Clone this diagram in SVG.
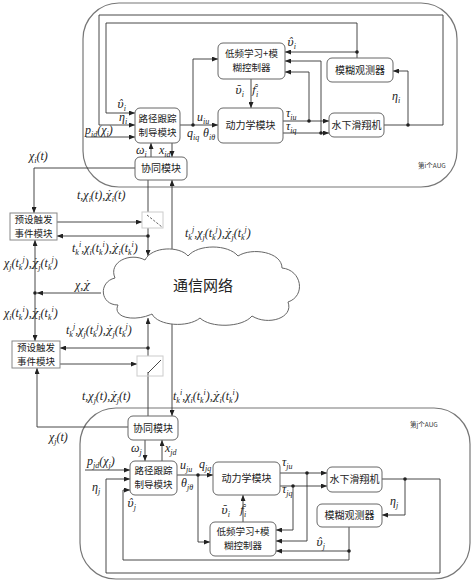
<svg xmlns="http://www.w3.org/2000/svg" width="474" height="583" viewBox="0 0 474 583">
<defs>
<marker id="a" markerWidth="6" markerHeight="5" refX="6" refY="2.5" orient="auto" markerUnits="userSpaceOnUse"><path d="M0,0 L6,2.5 L0,5 z" fill="#222"/></marker>
</defs>
<style>
.o{fill:none;stroke:#777;stroke-width:1.2}
.c{fill:none;stroke:#333;stroke-width:0.9}
.ar{marker-end:url(#a)}
.b{fill:#fff;stroke:#666;stroke-width:1}
.p{fill:#fff;stroke:#888;stroke-width:1}
.sw{fill:none;stroke:#ccc;stroke-width:1}
.d{fill:#222}
.t{font-family:"Noto Sans CJK SC","Noto Sans",sans-serif;font-size:10px;fill:#222;text-anchor:middle}
.t2{font-size:9.5px}
.m{font-family:"Liberation Serif",serif;font-style:italic;font-size:12px;fill:#222}
.ac{font-family:"DejaVu Serif",serif;font-size:11px}
.s{font-size:8px}
.g{font-family:"Noto Sans CJK SC","Noto Sans",sans-serif;font-size:6.5px;fill:#333}
</style>
<g id="aug-i-frame"><rect class="o" x="83" y="3" width="374" height="184" rx="36"/></g>
<g id="aug-j-frame"><rect class="o" x="80" y="408" width="390" height="171" rx="36"/></g>
<g id="connectors">
<path class="c ar" d="M357,58 L357,23 L106,23 L106,113 L135,113"/>
<path class="c ar" d="M357,52 L285,52"/>
<path class="c ar" d="M384,125 L443,125 L443,15 L99,15 L99,125 L135,125"/>
<path class="c ar" d="M408,125 L408,71 L393,71"/>
<path class="c ar" d="M86,137 L135,137"/>
<path class="c ar" d="M180,125 L218,125"/>
<path class="c ar" d="M193,125 L193,59 L218,59"/>
<path class="c ar" d="M251,79 L251,108"/>
<path class="c ar" d="M283,121 L329,121"/>
<path class="c ar" d="M309,121 L309,72 L285,72"/>
<path class="c ar" d="M283,133 L329,133"/>
<path class="c ar" d="M321,133 L321,61 L285,61"/>
<path class="c ar" d="M151,157 L151,143"/>
<path class="c ar" d="M172,143 L172,157"/>
<path class="c ar" d="M135,168 L34,168 L34,213"/>
<path class="c" d="M148,180 L148,212"/>
<path class="c ar" d="M148,228 L148,256"/>
<path class="c ar" d="M148,236 L57,236"/>
<path class="c ar" d="M57,222 L142,222"/>
<path class="c ar" d="M172,250 L172,180"/>
<path class="c ar" d="M101,293 L37,293"/>
<path class="c ar" d="M35,293 L35,240"/>
<path class="c ar" d="M35,293 L35,341"/>
<path class="c ar" d="M148,356 L148,318"/>
<path class="c ar" d="M148,348 L60,348"/>
<path class="c ar" d="M60,364 L137,364"/>
<path class="c" d="M148,372 L148,416"/>
<path class="c ar" d="M172,323 L172,416"/>
<path class="c ar" d="M128,427 L37,427 L37,368"/>
<path class="c ar" d="M145,440 L145,461"/>
<path class="c ar" d="M162,461 L162,440"/>
<path class="c ar" d="M85,470 L130,470"/>
<path class="c ar" d="M382,479 L440,479 L440,573 L106,573 L106,479 L130,479"/>
<path class="c ar" d="M405,479 L405,515 L382,515"/>
<path class="c ar" d="M349,527 L349,560 L123,560 L123,490 L130,490"/>
<path class="c ar" d="M349,551 L276,551"/>
<path class="c ar" d="M177,475 L213,475"/>
<path class="c ar" d="M198,475 L198,542 L210,542"/>
<path class="c ar" d="M243,522 L243,495"/>
<path class="c ar" d="M280,473 L327,473"/>
<path class="c ar" d="M307,473 L307,541 L276,541"/>
<path class="c ar" d="M280,486 L327,486"/>
<path class="c ar" d="M293,486 L293,530 L276,530"/>
<circle class="d" cx="357" cy="52" r="1.8"/>
<circle class="d" cx="408" cy="125" r="1.8"/>
<circle class="d" cx="193" cy="125" r="1.8"/>
<circle class="d" cx="309" cy="121" r="1.8"/>
<circle class="d" cx="321" cy="133" r="1.8"/>
<circle class="d" cx="148" cy="236" r="1.8"/>
<circle class="d" cx="35" cy="293" r="1.8"/>
<circle class="d" cx="148" cy="348" r="1.8"/>
<circle class="d" cx="405" cy="479" r="1.8"/>
<circle class="d" cx="349" cy="551" r="1.8"/>
<circle class="d" cx="198" cy="475" r="1.8"/>
<circle class="d" cx="307" cy="473" r="1.8"/>
<circle class="d" cx="293" cy="486" r="1.8"/>
</g>
<g id="cloud">
<path d="M118,305 C100,305 98,282 115,278 C108,262 130,252 145,260 C152,246 180,246 188,256 C198,244 228,244 238,256 C252,247 282,252 282,268 C302,270 306,296 288,302 C294,318 268,326 252,316 C242,328 210,328 200,318 C188,328 158,326 152,314 C135,322 112,318 118,305 Z" fill="#fff" stroke="#666" stroke-width="1"/>
<text class="t" x="203" y="291" style="font-size:15px">通信网络</text>
</g>
<g id="path-i"><rect class="b" x="135" y="108" width="45" height="35" rx="5"/><text class="t t2" x="157.5" y="121.8">路径跟踪<tspan x="157.5" dy="14">制导模块</tspan></text></g>
<g id="lowfreq-i"><rect class="b" x="218" y="43" width="67" height="36" rx="5"/><text class="t t2" x="251.5" y="57.3">低频学习+模<tspan x="251.5" dy="14">糊控制器</tspan></text></g>
<g id="observer-i"><rect class="b" x="327" y="58" width="66" height="24" rx="5"/><text class="t" x="360" y="73.5">模糊观测器</text></g>
<g id="dyn-i"><rect class="b" x="218" y="108" width="65" height="35" rx="5"/><text class="t" x="250.5" y="129">动力学模块</text></g>
<g id="glider-i"><rect class="b" x="329" y="113" width="55" height="24" rx="5"/><text class="t" x="356.5" y="128.5">水下滑翔机</text></g>
<g id="coop-i"><rect class="b" x="135" y="157" width="52" height="23" rx="5"/><text class="t" x="161" y="172">协同模块</text></g>
<g id="trigger-i"><rect class="p" x="10" y="213" width="47" height="27"/><text class="t t2" x="33.5" y="222.8">预设触发<tspan x="33.5" dy="14">事件模块</tspan></text></g>
<g id="switch-i"><rect class="sw" x="142" y="212" width="21" height="16"/><path d="M147,215 L162,227" stroke="#555" stroke-width="0.9" stroke-dasharray="2.5,1.5" fill="none"/></g>
<g id="trigger-j"><rect class="p" x="12" y="341" width="48" height="27"/><text class="t t2" x="36" y="350.8">预设触发<tspan x="36" dy="14">事件模块</tspan></text></g>
<g id="switch-j"><rect class="sw" x="137" y="356" width="26" height="20"/><path d="M148,373 L161,360" stroke="#333" stroke-width="0.9" fill="none"/></g>
<g id="coop-j"><rect class="b" x="128" y="416" width="50" height="24" rx="5"/><text class="t" x="153" y="431.5">协同模块</text></g>
<g id="path-j"><rect class="b" x="130" y="461" width="47" height="34" rx="5"/><text class="t t2" x="153.5" y="474.3">路径跟踪<tspan x="153.5" dy="14">制导模块</tspan></text></g>
<g id="dyn-j"><rect class="b" x="213" y="462" width="67" height="33" rx="5"/><text class="t" x="246.5" y="482">动力学模块</text></g>
<g id="glider-j"><rect class="b" x="327" y="467" width="55" height="25" rx="5"/><text class="t" x="354.5" y="483">水下滑翔机</text></g>
<g id="observer-j"><rect class="b" x="317" y="504" width="65" height="23" rx="5"/><text class="t" x="349.5" y="519">模糊观测器</text></g>
<g id="lowfreq-j"><rect class="b" x="210" y="522" width="66" height="34" rx="5"/><text class="t t2" x="243" y="535.3">低频学习+模<tspan x="243" dy="14">糊控制器</tspan></text></g>
<g id="labels">
<text class="m" x="117" y="108"><tspan class="ac">υ̂</tspan><tspan class="s" dy="3">i</tspan></text>
<text class="m" x="287" y="46"><tspan class="ac">υ̂</tspan><tspan class="s" dy="3">i</tspan></text>
<text class="m" x="119" y="121">η<tspan class="s" dy="3">i</tspan></text>
<text class="m" x="85" y="134">p<tspan class="s" dy="3">id</tspan><tspan dy="-3">(χ</tspan><tspan class="s" dy="3">i</tspan><tspan dy="-3">)</tspan></text>
<text class="m" x="197" y="121">u<tspan class="s" dy="3">iu</tspan></text>
<text class="m" x="187" y="137">q<tspan class="s" dy="3">iq</tspan></text>
<text class="m" x="203" y="137">θ<tspan class="s" dy="3">iθ</tspan></text>
<text class="m" x="235" y="94"><tspan class="ac">ῡ</tspan><tspan class="s" dy="3">i</tspan></text>
<text class="m" x="252" y="94"><tspan class="ac">f̂</tspan><tspan class="s" dy="3">i</tspan></text>
<text class="m" x="286" y="117">τ<tspan class="s" dy="3">iu</tspan></text>
<text class="m" x="286" y="130">τ<tspan class="s" dy="3">iq</tspan></text>
<text class="m" x="392" y="100">η<tspan class="s" dy="3">i</tspan></text>
<text class="m" x="136" y="154">ω<tspan class="s" dy="3">i</tspan></text>
<text class="m" x="159" y="154">x<tspan class="s" dy="3">id</tspan></text>
<text class="g" x="418" y="168">第i个AUG</text>
<text class="m" x="29" y="160">χ<tspan class="s" dy="3">i</tspan><tspan dy="-3">(t)</tspan></text>
<text class="m" x="77" y="199">t,χ<tspan class="s" dy="3">i</tspan><tspan dy="-3">(t),</tspan><tspan class="ac">χ̇</tspan><tspan class="s" dy="3">i</tspan><tspan dy="-3">(t)</tspan></text>
<text class="m" x="72" y="252">t<tspan class="s" dy="3">k</tspan><tspan class="s" dy="-8">i</tspan><tspan dy="5">,χ</tspan><tspan class="s" dy="3">i</tspan><tspan dy="-3">(t</tspan><tspan class="s" dy="3">k</tspan><tspan class="s" dy="-8">i</tspan><tspan dy="5">),</tspan><tspan class="ac">χ̇</tspan><tspan class="s" dy="3">i</tspan><tspan dy="-3">(t</tspan><tspan class="s" dy="3">k</tspan><tspan class="s" dy="-8">i</tspan><tspan dy="5">)</tspan></text>
<text class="m" x="185" y="237">t<tspan class="s" dy="3">k</tspan><tspan class="s" dy="-8">j</tspan><tspan dy="5">,χ</tspan><tspan class="s" dy="3">j</tspan><tspan dy="-3">(t</tspan><tspan class="s" dy="3">k</tspan><tspan class="s" dy="-8">j</tspan><tspan dy="5">),</tspan><tspan class="ac">χ̇</tspan><tspan class="s" dy="3">j</tspan><tspan dy="-3">(t</tspan><tspan class="s" dy="3">k</tspan><tspan class="s" dy="-8">j</tspan><tspan dy="5">)</tspan></text>
<text class="m" x="4" y="267">χ<tspan class="s" dy="3">j</tspan><tspan dy="-3">(t</tspan><tspan class="s" dy="3">k</tspan><tspan class="s" dy="-8">j</tspan><tspan dy="5">),</tspan><tspan class="ac">χ̇</tspan><tspan class="s" dy="3">j</tspan><tspan dy="-3">(t</tspan><tspan class="s" dy="3">k</tspan><tspan class="s" dy="-8">j</tspan><tspan dy="5">)</tspan></text>
<text class="m" x="75" y="289">χ,<tspan class="ac">χ̇</tspan></text>
<text class="m" x="4" y="317">χ<tspan class="s" dy="3">i</tspan><tspan dy="-3">(t</tspan><tspan class="s" dy="3">k</tspan><tspan class="s" dy="-8">i</tspan><tspan dy="5">),</tspan><tspan class="ac">χ̇</tspan><tspan class="s" dy="3">i</tspan><tspan dy="-3">(t</tspan><tspan class="s" dy="3">k</tspan><tspan class="s" dy="-8">i</tspan><tspan dy="5">)</tspan></text>
<text class="m" x="66" y="334">t<tspan class="s" dy="3">k</tspan><tspan class="s" dy="-8">j</tspan><tspan dy="5">,χ</tspan><tspan class="s" dy="3">j</tspan><tspan dy="-3">(t</tspan><tspan class="s" dy="3">k</tspan><tspan class="s" dy="-8">j</tspan><tspan dy="5">),</tspan><tspan class="ac">χ̇</tspan><tspan class="s" dy="3">j</tspan><tspan dy="-3">(t</tspan><tspan class="s" dy="3">k</tspan><tspan class="s" dy="-8">j</tspan><tspan dy="5">)</tspan></text>
<text class="m" x="82" y="400">t,χ<tspan class="s" dy="3">j</tspan><tspan dy="-3">(t),</tspan><tspan class="ac">χ̇</tspan><tspan class="s" dy="3">j</tspan><tspan dy="-3">(t)</tspan></text>
<text class="m" x="173" y="400">t<tspan class="s" dy="3">k</tspan><tspan class="s" dy="-8">i</tspan><tspan dy="5">,χ</tspan><tspan class="s" dy="3">i</tspan><tspan dy="-3">(t</tspan><tspan class="s" dy="3">k</tspan><tspan class="s" dy="-8">i</tspan><tspan dy="5">),</tspan><tspan class="ac">χ̇</tspan><tspan class="s" dy="3">i</tspan><tspan dy="-3">(t</tspan><tspan class="s" dy="3">k</tspan><tspan class="s" dy="-8">i</tspan><tspan dy="5">)</tspan></text>
<text class="m" x="49" y="441">χ<tspan class="s" dy="3">j</tspan><tspan dy="-3">(t)</tspan></text>
<text class="g" x="410" y="427">第j个AUG</text>
<text class="m" x="131" y="452">ω<tspan class="s" dy="3">j</tspan></text>
<text class="m" x="165" y="452">x<tspan class="s" dy="3">jd</tspan></text>
<text class="m" x="87" y="465">p<tspan class="s" dy="3">jd</tspan><tspan dy="-3">(χ</tspan><tspan class="s" dy="3">j</tspan><tspan dy="-3">)</tspan></text>
<text class="m" x="92" y="491">η<tspan class="s" dy="3">j</tspan></text>
<text class="m" x="127" y="507"><tspan class="ac">υ̂</tspan><tspan class="s" dy="3">j</tspan></text>
<text class="m" x="180" y="469">u<tspan class="s" dy="3">ju</tspan></text>
<text class="m" x="199" y="468">q<tspan class="s" dy="3">jq</tspan></text>
<text class="m" x="181" y="487">θ<tspan class="s" dy="3">jθ</tspan></text>
<text class="m" x="282" y="466">τ<tspan class="s" dy="3">ju</tspan></text>
<text class="m" x="282" y="493">τ<tspan class="s" dy="3">jq</tspan></text>
<text class="m" x="221" y="514"><tspan class="ac">ῡ</tspan><tspan class="s" dy="3">i</tspan></text>
<text class="m" x="240" y="514"><tspan class="ac">f̂</tspan><tspan class="s" dy="3">i</tspan></text>
<text class="m" x="390" y="505">η<tspan class="s" dy="3">j</tspan></text>
<text class="m" x="316" y="546"><tspan class="ac">υ̂</tspan><tspan class="s" dy="3">j</tspan></text>
</g>
</svg>
